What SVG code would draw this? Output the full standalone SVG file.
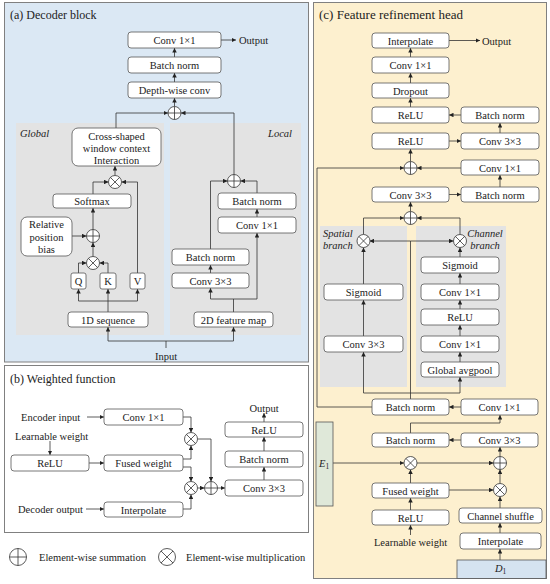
<svg xmlns="http://www.w3.org/2000/svg" width="550" height="584" viewBox="0 0 550 584" font-family="'Liberation Serif','Times New Roman',serif">
<style>
text{font-family:"Liberation Serif","Times New Roman",serif;font-size:10.5px;fill:#222}
.t{font-size:12px}
.t2{font-size:13px}
.c{text-anchor:middle}
.i{font-style:italic}
.b{fill:#fff;stroke:#555;stroke-width:0.8}
.p{stroke:#808080;stroke-width:1}
.l{fill:none;stroke:#333;stroke-width:0.8}
.a{fill:none;stroke:#333;stroke-width:0.8;marker-end:url(#ah)}
.o{fill:#fff;stroke:#333;stroke-width:0.8}
</style>
<defs>
<marker id="ah" viewBox="0 0 6 6" refX="6" refY="3" markerWidth="4.5" markerHeight="4.5" orient="auto" markerUnits="userSpaceOnUse"><path d="M0,0L6,3L0,6z" fill="#222"/></marker>
<g id="sum"><circle class="o" r="6.5"/><path class="l" d="M-6.5,0H6.5M0,-6.5V6.5"/></g>
<g id="mul"><circle class="o" r="6.5"/><path class="l" d="M-4.6,-4.6L4.6,4.6M-4.6,4.6L4.6,-4.6"/></g>
<g id="sumL"><circle class="o" r="8.5"/><path class="l" d="M-8.5,0H8.5M0,-8.5V8.5"/></g>
<g id="mulL"><circle class="o" r="8.5"/><path class="l" d="M-6,-6L6,6M-6,6L6,-6"/></g>
</defs>

<!-- Panels -->
<rect class="p" x="4.5" y="2.5" width="304" height="359.5" fill="#dbe8f4"/>
<rect x="16" y="123" width="148" height="212" fill="#e3e3e3"/>
<rect x="170" y="123" width="131" height="212" fill="#e3e3e3"/>
<rect class="p" x="4.5" y="365.5" width="304" height="167" fill="#fff"/>
<rect class="p" x="313.5" y="2.5" width="233" height="576" fill="#fdf0cf"/>
<rect x="320" y="226" width="87" height="161" fill="#e3e3e3"/>
<rect x="416" y="226" width="90" height="161" fill="#e3e3e3"/>

<text class="t" x="10" y="19">(a) Decoder block</text>
<text class="i" x="20" y="137">Global</text>
<text class="i" x="292" y="137" text-anchor="end">Local</text>
<text class="c" x="166" y="360">Input</text>
<text class="t" x="10" y="383">(b) Weighted function</text>
<text class="t2" x="319" y="19">(c) Feature refinement head</text>
<text class="i" x="323" y="237">Spatial</text>
<text class="i" x="323" y="249">branch</text>
<text class="i c" x="485" y="237">Channel</text>
<text class="i c" x="485" y="249">branch</text>

<!-- Connectors -->
<g id="connectors">
<!-- (a) -->
<path class="a" d="M174.5,57V48"/>
<path class="a" d="M174.5,82V73"/>
<path class="a" d="M174.5,106.5V98"/>
<path class="a" d="M221,40H236"/>
<path class="a" d="M116,128V113H168"/>
<path class="a" d="M234,174.5V113H181"/>
<path class="a" d="M115,175.5V166"/>
<path class="a" d="M93,194V182H108.5"/>
<path class="a" d="M137.5,273V182H121.5"/>
<path class="a" d="M93,229.5V208"/>
<path class="a" d="M72,236H86.5"/>
<path class="a" d="M93,256.5V242.5"/>
<path class="a" d="M78.5,273V263H86.5"/>
<path class="a" d="M108,273V263H99.5"/>
<path class="l" d="M108,312V301M78.5,301H137.5"/>
<path class="a" d="M78.5,301V289"/>
<path class="a" d="M108,301V289"/>
<path class="a" d="M137.5,301V289"/>
<path class="l" d="M233.5,312V299M210.5,299H257"/>
<path class="a" d="M210.5,299V288"/>
<path class="a" d="M257,299V233"/>
<path class="a" d="M210.5,273V265"/>
<path class="a" d="M210.5,249V181H227.5"/>
<path class="a" d="M257,217V209"/>
<path class="a" d="M257,193V181H240.5"/>
<path class="l" d="M108,341H233.5M166,341V348"/>
<path class="a" d="M108,341V327"/>
<path class="a" d="M233.5,341V327"/>
<!-- (b) -->
<path class="a" d="M87,417H104"/>
<path class="a" d="M50,441V455"/>
<path class="a" d="M89,463H104"/>
<path class="a" d="M183,417H191V432.5"/>
<path class="a" d="M183,459H191V445.5"/>
<path class="a" d="M183,467H191V481.5"/>
<path class="a" d="M183,509H191V494.5"/>
<path class="a" d="M86,509H104"/>
<path class="a" d="M197.5,488H204.5"/>
<path class="a" d="M197.5,439H211V481.5"/>
<path class="a" d="M217.5,488H225"/>
<path class="a" d="M264,480V467"/>
<path class="a" d="M264,451V437"/>
<path class="a" d="M264,422V413"/>
<!-- (c) -->
<path class="a" d="M449,40.5H480"/>
<path class="a" d="M410.5,57V48"/>
<path class="a" d="M410.5,83V73"/>
<path class="a" d="M410.5,107V98"/>
<path class="a" d="M461,115H449"/>
<path class="a" d="M449,141H461"/>
<path class="a" d="M500,133V123"/>
<path class="a" d="M410.5,161.5V149"/>
<path class="a" d="M461,168H417"/>
<path class="a" d="M372,407H317V168H404"/>
<path class="a" d="M449,194.5H461"/>
<path class="a" d="M500,187V175"/>
<path class="a" d="M410.5,211.5V202"/>
<path class="a" d="M363.5,234.5V218H404"/>
<path class="a" d="M460,234.5V218H417"/>
<path class="l" d="M410.5,399V241"/>
<path class="a" d="M410.5,241H369.5"/>
<path class="a" d="M410.5,241H453.5"/>
<path class="a" d="M460,257V247.5"/>
<path class="a" d="M460,284V273"/>
<path class="a" d="M460,309V300"/>
<path class="a" d="M460,336V325"/>
<path class="a" d="M460,362V352"/>
<path class="a" d="M363.5,284V247.5"/>
<path class="a" d="M363.5,336V300"/>
<path class="l" d="M363.5,393H460"/>
<path class="a" d="M363.5,393V352"/>
<path class="a" d="M460,393V377"/>
<path class="a" d="M461,407H449"/>
<path class="a" d="M410.5,433V423H500V415"/>
<path class="a" d="M461,440H449"/>
<path class="a" d="M500,456.5V447"/>
<path class="a" d="M500,483.5V469.5"/>
<path class="a" d="M333,463H404"/>
<path class="a" d="M417,463H493.5"/>
<path class="a" d="M410.5,483V469.5"/>
<path class="a" d="M449,490H493.5"/>
<path class="a" d="M410.5,510V498"/>
<path class="a" d="M410.5,535V525"/>
<path class="a" d="M500,508V496.5"/>
<path class="a" d="M500,533V523"/>
<path class="a" d="M500,560V549"/>
</g>

<!-- (a) nodes -->
<g id="a-conv1"><rect class="b" x="128" y="32" width="93" height="16" rx="3"/><text class="c" x="174.5" y="44">Conv 1×1</text></g>
<text x="239" y="44">Output</text>
<g id="a-bn"><rect class="b" x="128" y="57" width="93" height="16" rx="3"/><text class="c" x="174.5" y="69">Batch norm</text></g>
<g id="a-dw"><rect class="b" x="128" y="82" width="93" height="16" rx="3"/><text class="c" x="174.5" y="94">Depth-wise conv</text></g>
<g id="a-sum1"><use href="#sum" x="174.5" y="113"/></g>
<g id="a-cross"><rect class="b" x="72" y="128" width="89" height="38" rx="6"/><text class="c" x="116.5" y="139.5">Cross-shaped</text><text class="c" x="116.5" y="151.5">window context</text><text class="c" x="116.5" y="163.5">Interaction</text></g>
<g id="a-mul1"><use href="#mul" x="115" y="182"/></g>
<g id="a-softmax"><rect class="b" x="53" y="194" width="78" height="14" rx="3"/><text class="c" x="92" y="205">Softmax</text></g>
<g id="a-sum2"><use href="#sum" x="93" y="236"/></g>
<g id="a-rpb"><rect class="b" x="21" y="217" width="51" height="39" rx="6"/><text class="c" x="46.5" y="228">Relative</text><text class="c" x="46.5" y="240.5">position</text><text class="c" x="46.5" y="253">bias</text></g>
<g id="a-mul2"><use href="#mul" x="93" y="263"/></g>
<g id="a-q"><rect class="b" x="71" y="273" width="15" height="16" rx="2"/><text class="c" x="78.5" y="285">Q</text></g>
<g id="a-k"><rect class="b" x="100" y="273" width="16" height="16" rx="2"/><text class="c" x="108" y="285">K</text></g>
<g id="a-v"><rect class="b" x="130" y="273" width="15" height="16" rx="2"/><text class="c" x="137.5" y="285">V</text></g>
<g id="a-1d"><rect class="b" x="68" y="312" width="80" height="15" rx="3"/><text class="c" x="108" y="323.5">1D sequence</text></g>
<g id="a-2d"><rect class="b" x="194" y="312" width="79" height="15" rx="3"/><text class="c" x="233.5" y="323.5">2D feature map</text></g>
<g id="a-bn2"><rect class="b" x="172" y="249" width="77" height="16" rx="3"/><text class="c" x="210.5" y="261">Batch norm</text></g>
<g id="a-conv3"><rect class="b" x="172" y="273" width="77" height="15" rx="3"/><text class="c" x="210.5" y="284.5">Conv 3×3</text></g>
<g id="a-bn3"><rect class="b" x="218" y="193" width="78" height="16" rx="3"/><text class="c" x="257" y="205">Batch norm</text></g>
<g id="a-conv1b"><rect class="b" x="218" y="217" width="78" height="16" rx="3"/><text class="c" x="257" y="229">Conv 1×1</text></g>
<g id="a-sum3"><use href="#sum" x="234" y="181"/></g>

<!-- (b) nodes -->
<text x="21" y="421">Encoder input</text>
<text x="15" y="440">Learnable weight</text>
<text x="18" y="513">Decoder output</text>
<g id="b-conv1"><rect class="b" x="104" y="409" width="79" height="16" rx="3"/><text class="c" x="143.5" y="421">Conv 1×1</text></g>
<g id="b-relu"><rect class="b" x="11" y="455" width="78" height="16" rx="3"/><text class="c" x="50" y="467">ReLU</text></g>
<g id="b-fused"><rect class="b" x="104" y="455" width="79" height="16" rx="3"/><text class="c" x="143.5" y="467">Fused weight</text></g>
<g id="b-interp"><rect class="b" x="104" y="502" width="79" height="15" rx="3"/><text class="c" x="143.5" y="513.5">Interpolate</text></g>
<g id="b-mul1"><use href="#mul" x="191" y="439"/></g>
<g id="b-mul2"><use href="#mul" x="191" y="488"/></g>
<g id="b-sum"><use href="#sum" x="211" y="488"/></g>
<g id="b-conv3"><rect class="b" x="225" y="480" width="78" height="16" rx="3"/><text class="c" x="264" y="492">Conv 3×3</text></g>
<g id="b-bn"><rect class="b" x="225" y="451" width="78" height="16" rx="3"/><text class="c" x="264" y="463">Batch norm</text></g>
<g id="b-relu2"><rect class="b" x="225" y="422" width="78" height="15" rx="3"/><text class="c" x="264" y="433.5">ReLU</text></g>
<text class="c" x="264" y="412">Output</text>

<!-- Legend -->
<g id="legend-sum"><use href="#sumL" x="18" y="557"/><text x="39" y="561">Element-wise summation</text></g>
<g id="legend-mul"><use href="#mulL" x="167" y="557"/><text x="186" y="561">Element-wise multiplication</text></g>

<!-- (c) nodes -->
<g id="c-interp"><rect class="b" x="372" y="33" width="77" height="15" rx="3"/><text class="c" x="410.5" y="44.5">Interpolate</text></g>
<text x="482" y="44.5">Output</text>
<g id="c-conv1"><rect class="b" x="372" y="57" width="77" height="16" rx="3"/><text class="c" x="410.5" y="69">Conv 1×1</text></g>
<g id="c-drop"><rect class="b" x="372" y="83" width="77" height="15" rx="3"/><text class="c" x="410.5" y="94.5">Dropout</text></g>
<g id="c-relu1"><rect class="b" x="372" y="107" width="77" height="16" rx="3"/><text class="c" x="410.5" y="119">ReLU</text></g>
<g id="c-bn1"><rect class="b" x="461" y="107" width="78" height="16" rx="3"/><text class="c" x="500" y="119">Batch norm</text></g>
<g id="c-relu2"><rect class="b" x="372" y="133" width="77" height="16" rx="3"/><text class="c" x="410.5" y="145">ReLU</text></g>
<g id="c-conv3a"><rect class="b" x="461" y="133" width="78" height="16" rx="3"/><text class="c" x="500" y="145">Conv 3×3</text></g>
<g id="c-sum1"><use href="#sum" x="410.5" y="168"/></g>
<g id="c-conv1b"><rect class="b" x="461" y="160" width="78" height="15" rx="3"/><text class="c" x="500" y="171.5">Conv 1×1</text></g>
<g id="c-conv3b"><rect class="b" x="372" y="187" width="77" height="15" rx="3"/><text class="c" x="410.5" y="198.5">Conv 3×3</text></g>
<g id="c-bn2"><rect class="b" x="461" y="187" width="78" height="15" rx="3"/><text class="c" x="500" y="198.5">Batch norm</text></g>
<g id="c-sum2"><use href="#sum" x="410.5" y="218"/></g>
<g id="c-smul"><use href="#mul" x="363.5" y="241"/></g>
<g id="c-cmul"><use href="#mul" x="460" y="241"/></g>
<g id="c-csig"><rect class="b" x="421" y="257" width="78" height="16" rx="3"/><text class="c" x="460" y="269">Sigmoid</text></g>
<g id="c-cconv1a"><rect class="b" x="421" y="284" width="78" height="16" rx="3"/><text class="c" x="460" y="296">Conv 1×1</text></g>
<g id="c-crelu"><rect class="b" x="421" y="309" width="78" height="16" rx="3"/><text class="c" x="460" y="321">ReLU</text></g>
<g id="c-cconv1b"><rect class="b" x="421" y="336" width="78" height="16" rx="3"/><text class="c" x="460" y="348">Conv 1×1</text></g>
<g id="c-gap"><rect class="b" x="421" y="362" width="78" height="15" rx="3"/><text class="c" x="460" y="373.5">Global avgpool</text></g>
<g id="c-ssig"><rect class="b" x="324" y="284" width="79" height="16" rx="3"/><text class="c" x="363.5" y="296">Sigmoid</text></g>
<g id="c-sconv3"><rect class="b" x="324" y="336" width="79" height="16" rx="3"/><text class="c" x="363.5" y="348">Conv 3×3</text></g>
<g id="c-bn3"><rect class="b" x="372" y="399" width="77" height="16" rx="3"/><text class="c" x="410.5" y="411">Batch norm</text></g>
<g id="c-conv1c"><rect class="b" x="461" y="399" width="77" height="16" rx="3"/><text class="c" x="499.5" y="411">Conv 1×1</text></g>
<g id="c-bn4"><rect class="b" x="372" y="433" width="77" height="14" rx="3"/><text class="c" x="410.5" y="444">Batch norm</text></g>
<g id="c-conv3c"><rect class="b" x="461" y="433" width="77" height="14" rx="3"/><text class="c" x="499.5" y="444">Conv 3×3</text></g>
<g id="c-sum3"><use href="#sum" x="500" y="463"/></g>
<g id="c-mul3"><use href="#mul" x="500" y="490"/></g>
<g id="c-mul4"><use href="#mul" x="410.5" y="463"/></g>
<g id="c-e1"><rect x="316" y="422" width="17" height="84" fill="#dfe8d9" stroke="#555" stroke-width="0.8"/><text x="319" y="467"><tspan class="i">E</tspan><tspan font-size="7.5" dy="2">1</tspan></text></g>
<g id="c-fused"><rect class="b" x="372" y="483" width="77" height="15" rx="3"/><text class="c" x="410.5" y="494.5">Fused weight</text></g>
<g id="c-relu3"><rect class="b" x="372" y="510" width="77" height="15" rx="3"/><text class="c" x="410.5" y="521.5">ReLU</text></g>
<text class="c" x="410.5" y="545.5">Learnable weight</text>
<g id="c-shuffle"><rect class="b" x="459" y="508" width="83" height="15" rx="3"/><text class="c" x="500.5" y="519.5">Channel shuffle</text></g>
<g id="c-interp2"><rect class="b" x="460" y="533" width="81" height="16" rx="3"/><text class="c" x="500.5" y="545">Interpolate</text></g>
<g id="c-d1"><rect x="457" y="560" width="89" height="18.5" fill="#d5e3f0" stroke="#555" stroke-width="0.8"/><text x="495" y="572"><tspan class="i">D</tspan><tspan font-size="7.5" dy="2">1</tspan></text></g>
</svg>
